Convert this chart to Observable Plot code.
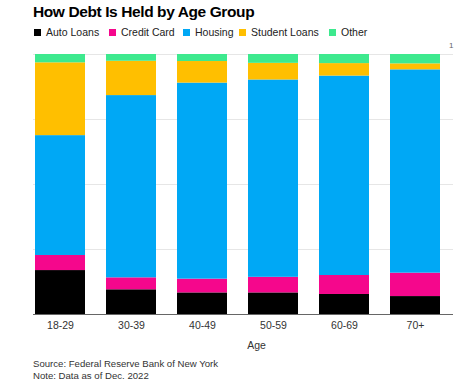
<!DOCTYPE html>
<html>
<head>
<meta charset="utf-8">
<script src="https://cdn.jsdelivr.net/npm/d3@7"></script>
<script src="https://cdn.jsdelivr.net/npm/@observablehq/plot@0.6"></script>
<style>
  html, body { margin: 0; padding: 0; background: #fff; }
  body { width: 474px; height: 384px; position: relative; overflow: hidden; font-family: "Liberation Sans", Arial, sans-serif; }
  #title { position: absolute; left: 33px; top: 3px; font-size: 15.5px; font-weight: bold; color: #000; letter-spacing: -0.4px; }
  #legend { position: absolute; left: 0; top: 26px; width: 474px; height: 14px; font-size: 10.5px; color: #222; }
  .item { position: absolute; top: 0; display: flex; align-items: center; white-space: nowrap; }
  .sw { width: 7px; height: 7px; margin-right: 5px; }
  #chart { position: absolute; left: 0; top: 40px; }
  #notes { position: absolute; left: 33px; top: 358px; font-size: 9.6px; line-height: 12px; color: #333; }
</style>
</head>
<body>
<div id="title">How Debt Is Held by Age Group</div>
<div id="legend"></div>
<div id="chart"></div>
<div id="notes">Source: Federal Reserve Bank of New York<br>Note: Data as of Dec. 2022</div>
<script>
const ages = ["18-29", "30-39", "40-49", "50-59", "60-69", "70+"];
const categories = ["Auto Loans", "Credit Card", "Housing", "Student Loans", "Other"];
const colors = ["#000000", "#F5078C", "#00A8F5", "#FFBF00", "#3DE98E"];
const autoLoans    = [0.169, 0.095, 0.083, 0.083, 0.077, 0.069];
const creditCard   = [0.058, 0.046, 0.053, 0.060, 0.073, 0.090];
const housing      = [0.461, 0.701, 0.754, 0.759, 0.767, 0.782];
const studentLoans = [0.280, 0.132, 0.083, 0.064, 0.048, 0.023];
const other        = [0.032, 0.026, 0.027, 0.034, 0.035, 0.036];
const yTicks = [0, 0.25, 0.5, 0.75, 1];
const yLabels = [1];

const series = [autoLoans, creditCard, housing, studentLoans, other];
const data = [];
categories.forEach((c, i) => ages.forEach((a, j) => data.push({age: a, category: c, value: series[i][j]})));

// legend (item left offsets are layout only)
const legendLeft = [34, 109, 183, 239, 329];
const leg = document.getElementById("legend");
categories.forEach((c, i) => {
  const it = document.createElement("div");
  it.className = "item";
  it.style.left = legendLeft[i] + "px";
  it.innerHTML = `<span class="sw" style="background:${colors[i]}"></span><span>${c}</span>`;
  leg.appendChild(it);
});

const chart = Plot.plot({
  width: 474,
  height: 316,
  marginLeft: 33,
  marginRight: 21,
  marginTop: 14,
  marginBottom: 42,
  style: {fontFamily: "Liberation Sans, Arial, sans-serif", fontSize: "10.5px", color: "#333", background: "transparent"},
  x: {domain: ages, range: [33, 442], paddingInner: 0.3, paddingOuter: 0, label: null},
  y: {domain: [0, 1], label: null},
  color: {domain: categories, range: colors},
  marks: [
    Plot.ruleY(yTicks.slice(1), {stroke: "#e6e6e6", strokeWidth: 1}),
    Plot.barY(data, {x: "age", y: "value", fill: "category", order: categories}),
    Plot.ruleY([0], {stroke: "#666", strokeWidth: 1}),
    Plot.axisX({tickSize: 0, tickPadding: 7, fontSize: 10.5, label: null}),
    Plot.text(["Age"], {frameAnchor: "bottom", dy: 34, dx: 13, fontSize: 10.5, fill: "#333"}),
    Plot.axisY(yLabels, {anchor: "right", tickSize: 0, tickPadding: 0, textAnchor: "end", dy: -9, dx: 0, fontSize: 8, fill: "#666", label: null, tickFormat: d => String(d)})
  ]
});
document.getElementById("chart").appendChild(chart);
</script>
</body>
</html>
